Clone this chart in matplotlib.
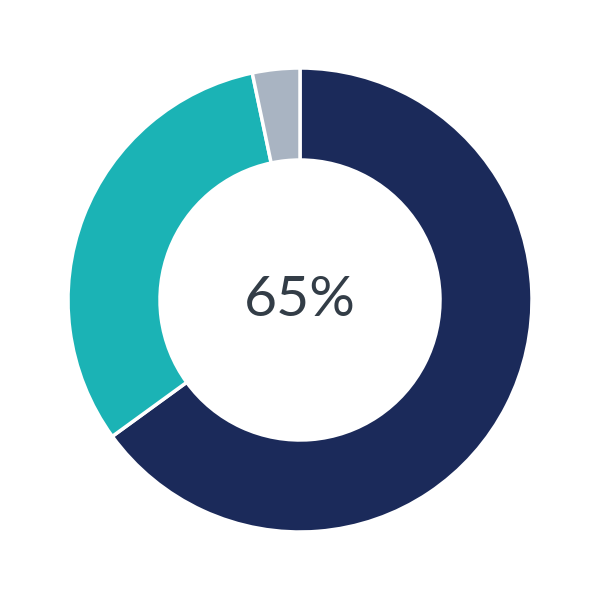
import matplotlib
matplotlib.use("Agg")
import matplotlib.pyplot as plt

# wartości segmentów (w procentach)
labels = ["Główny", "Drugi", "Pozostałe"]
values = [65, 31.7, 3.3]
colors = ["#1b2a5a", "#1bb3b5", "#a9b4c2"]
center_text = "65%"

fig = plt.figure(figsize=(6, 6), dpi=100)
ax = fig.add_axes([0, 0, 1, 1])

outer_r = 232 / 300
inner_r = 140 / 300
ax.pie(values, colors=colors, startangle=90, counterclock=False,
       radius=outer_r,
       wedgeprops=dict(width=outer_r - inner_r, edgecolor="white", linewidth=2.5))

ax.text(0, 0, center_text, ha="center", va="center", fontsize=41,
        family=["Lato", "DejaVu Sans"], fontweight="normal", color="#333d47")

ax.set_xlim(-1, 1)
ax.set_ylim(-1, 1)
ax.set_aspect("equal")
ax.axis("off")

fig.savefig("out.png", dpi=100, facecolor="white")
